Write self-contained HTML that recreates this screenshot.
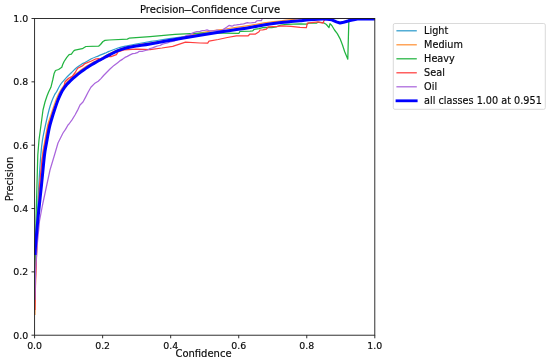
<!DOCTYPE html>
<html><head><meta charset="utf-8"><title>Precision–Confidence Curve</title>
<style>
html,body{margin:0;padding:0;background:#fff;}
svg{display:block;font-family:"DejaVu Sans","Liberation Sans",sans-serif;}
</style></head><body>
<svg width="550" height="362" viewBox="0 0 550 362">
<rect x="0" y="0" width="550" height="362" fill="#fff"/>
<defs><clipPath id="ax"><rect x="34.300000000000004" y="18.2" width="340.8" height="317.3"/></clipPath></defs>
<g clip-path="url(#ax)" fill="none" stroke-linejoin="round" stroke-linecap="butt">
<path d="M34.9,300.0 C34.98,295.00 35.18,278.33 35.4,270.0 C35.62,261.67 35.90,258.17 36.2,250.0 C36.50,241.83 36.82,230.83 37.2,221.0 C37.58,211.17 37.90,202.00 38.5,191.0 C39.10,180.00 40.13,163.50 40.8,155.0 C41.47,146.50 41.72,145.00 42.5,140.0 C43.28,135.00 44.42,130.00 45.5,125.0 C46.58,120.00 48.00,113.83 49.0,110.0 C50.00,106.17 50.58,104.50 51.5,102.0 C52.42,99.50 53.68,96.67 54.5,95.0 C55.32,93.33 55.40,93.75 56.4,92.0 C57.40,90.25 58.92,86.80 60.5,84.5 C62.08,82.20 64.08,80.17 65.9,78.2 C67.72,76.23 69.58,74.47 71.4,72.7 C73.22,70.93 74.98,69.08 76.8,67.6 C78.62,66.12 80.93,64.63 82.3,63.8 C83.67,62.97 83.48,63.45 85.0,62.6 C86.52,61.75 89.13,59.83 91.4,58.7 C93.67,57.57 96.33,56.72 98.6,55.8 C100.87,54.88 103.27,53.93 105.0,53.2 C106.73,52.47 106.83,52.27 109.0,51.4 C111.17,50.53 115.00,48.93 118.0,48.0 C121.00,47.07 124.00,46.47 127.0,45.8 C130.00,45.13 132.17,44.70 136.0,44.0 C139.83,43.30 146.00,42.27 150.0,41.6 C154.00,40.93 155.50,40.67 160.0,40.0 C164.50,39.33 172.00,38.27 177.0,37.6 C182.00,36.93 186.17,36.50 190.0,36.0 C193.83,35.50 194.17,35.47 200.0,34.6 C205.83,33.73 216.67,32.07 225.0,30.8 C233.33,29.53 241.33,28.40 250.0,27.0 C258.67,25.60 268.67,23.50 277.0,22.4 C285.33,21.30 292.83,20.93 300.0,20.4 C307.17,19.87 313.33,19.53 320.0,19.2 L340.0,18.4 L374.8,18.4" stroke="#2f9ccc" stroke-width="1.25"/>
<path d="M34.9,315.0 C34.97,310.83 35.15,297.50 35.3,290.0 C35.45,282.50 35.58,276.83 35.8,270.0 C36.02,263.17 36.30,255.67 36.6,249.0 C36.90,242.33 37.17,238.17 37.6,230.0 C38.03,221.83 38.80,206.50 39.2,200.0 C39.60,193.50 39.45,198.50 40.0,191.0 C40.55,183.50 41.75,163.00 42.5,155.0 C43.25,147.00 43.62,148.00 44.5,143.0 C45.38,138.00 46.78,129.50 47.8,125.0 C48.82,120.50 49.65,118.97 50.6,116.0 C51.55,113.03 52.52,110.07 53.5,107.2 C54.48,104.33 55.48,101.33 56.5,98.8 C57.52,96.27 58.55,93.97 59.6,92.0 C60.65,90.03 61.73,88.48 62.8,87.0 C63.87,85.52 64.97,84.27 66.0,83.1 C67.03,81.93 68.00,80.98 69.0,80.0 C70.00,79.02 71.00,78.10 72.0,77.2 C73.00,76.30 73.83,75.57 75.0,74.6 C76.17,73.63 77.67,72.42 79.0,71.4 C80.33,70.38 81.67,69.42 83.0,68.5 C84.33,67.58 85.67,66.73 87.0,65.9 C88.33,65.07 89.67,64.27 91.0,63.5 C92.33,62.73 93.50,62.07 95.0,61.3 C96.50,60.53 97.50,60.22 100.0,58.9 C102.50,57.58 106.67,55.02 110.0,53.4 C113.33,51.78 116.67,50.37 120.0,49.2 C123.33,48.03 126.67,47.17 130.0,46.4 C133.33,45.63 136.67,45.17 140.0,44.6 C143.33,44.03 144.17,43.97 150.0,43.0 C155.83,42.03 166.07,40.57 175.0,38.8 C183.93,37.03 195.27,34.03 203.6,32.4 C211.93,30.77 217.27,30.18 225.0,29.0 C232.73,27.82 242.83,26.42 250.0,25.3 C257.17,24.18 261.93,23.15 268.0,22.3 C274.07,21.45 281.82,20.73 286.4,20.2 C290.98,19.67 293.23,19.32 295.5,19.1 C297.77,18.88 298.42,19.02 300.0,18.9 C301.58,18.78 292.53,18.48 305.0,18.4 L374.8,18.4" stroke="#ff9238" stroke-width="1.25"/>
<path d="M34.9,290.0 L35.3,260.0 L36.0,221.0 L36.8,191.0 L37.8,155.0 L39.0,140.0 L41.0,125.0 L43.0,110.0 L45.0,102.0 L47.0,96.0 L48.6,92.0 L50.9,87.3 L52.7,80.0 L54.1,73.6 L55.5,70.5 L58.6,69.5 L61.8,67.3 L62.7,64.5 L64.1,61.5 L66.8,57.4 L69.1,54.6 L71.4,54.2 L73.6,51.0 L75.0,50.1 L82.3,48.7 L85.9,46.5 L98.6,46.2 L100.5,44.5 L103.0,41.5 L105.0,40.4 L109.1,40.0 L127.3,39.1 L129.0,38.2 L150.0,36.7 L175.0,34.4 L200.0,33.1 L222.7,33.1 L239.0,33.3 L240.0,31.3 L250.0,31.2 L252.7,30.9 L254.0,29.5 L259.0,28.6 L262.7,27.7 L268.0,27.3 L271.8,27.7 L276.4,26.8 L281.0,25.0 L286.4,24.4 L300.0,23.8 L307.3,24.1 L308.6,23.2 L316.4,23.2 L318.0,22.3 L323.6,22.7 L326.4,24.5 L329.0,27.7 L330.0,23.6 L331.8,25.5 L334.5,30.0 L337.3,33.6 L340.0,38.6 L342.4,44.8 L344.7,51.8 L347.0,57.2 L347.8,59.2 L348.9,18.4 L374.8,18.4" stroke="#22b440" stroke-width="1.25"/>
<path d="M34.9,310.0 L35.6,280.0 L36.8,249.0 L38.0,221.0 L39.5,185.0 L42.0,160.0 L45.0,143.0 L48.5,125.0 L54.0,110.0 L60.0,96.0 L64.1,86.4 L65.0,81.8 L68.6,78.2 L72.3,76.4 L75.0,72.7 L77.7,68.2 L82.3,65.9 L85.0,63.6 L91.4,61.0 L95.0,59.2 L98.6,58.7 L100.5,60.5 L104.0,58.0 L108.0,56.6 L111.0,56.6 L116.4,54.6 L118.0,52.0 L124.0,49.8 L128.2,49.6 L136.0,49.2 L143.6,49.4 L150.0,49.6 L162.0,48.0 L172.7,46.3 L185.5,42.2 L200.0,43.0 L207.7,43.1 L209.0,41.1 L218.2,39.5 L227.3,37.5 L236.4,35.8 L248.2,35.8 L250.0,34.0 L255.5,34.1 L259.0,31.8 L260.0,30.0 L262.7,29.8 L266.4,29.1 L268.2,26.8 L277.3,26.4 L281.8,25.9 L291.0,26.4 L300.0,27.4 L306.4,27.7 L307.3,23.2 L318.0,21.8 L323.2,23.2 L323.8,20.9 L326.0,18.4 L374.8,18.4" stroke="#ff3e3e" stroke-width="1.25"/>
<path d="M34.9,300.0 L35.6,270.0 L37.2,245.0 L39.5,221.0 L42.5,205.0 L45.5,191.0 L50.0,170.0 L54.5,155.0 L58.0,143.0 L63.0,133.0 L65.5,129.4 L68.0,125.0 L69.0,124.0 L72.0,119.8 L75.0,115.0 L77.5,110.4 L80.0,105.0 L83.0,102.0 L85.6,97.1 L88.2,92.0 L90.9,87.3 L94.5,83.6 L98.2,81.2 L100.9,78.6 L103.6,75.5 L107.3,71.8 L110.0,69.0 L114.0,65.4 L118.0,62.4 L120.3,60.6 L122.7,59.1 L125.0,57.4 L127.3,56.4 L130.0,54.9 L132.7,53.6 L135.0,53.4 L137.3,52.7 L139.0,51.4 L142.2,51.3 L145.5,50.5 L147.8,50.0 L150.0,48.5 L152.5,47.9 L155.0,46.9 L157.5,46.0 L160.0,45.5 L162.5,44.1 L165.0,43.5 L167.5,42.9 L170.0,42.0 L172.5,41.4 L175.0,40.8 L177.5,39.7 L180.0,38.6 L182.5,37.7 L185.0,36.4 L187.5,35.1 L190.0,34.6 L193.6,32.6 L196.8,31.7 L200.0,31.3 L202.3,30.7 L204.7,30.5 L207.0,29.9 L209.5,30.9 L212.0,30.8 L214.5,30.8 L217.0,30.1 L219.5,30.5 L222.0,30.5 L224.7,28.5 L227.3,26.7 L229.0,25.4 L232.0,26.2 L234.2,25.1 L236.4,24.9 L240.0,24.4 L243.6,23.8 L247.3,22.6 L250.0,23.0 L253.0,22.6 L255.5,22.3 L256.8,20.9 L259.1,20.5 L261.4,20.7 L262.3,18.4 L374.8,18.4" stroke="#aa66dc" stroke-width="1.25"/>
<path d="M35.0,255.0 C35.10,253.33 35.05,251.67 35.6,245.0 C36.15,238.33 37.32,225.00 38.3,215.0 C39.28,205.00 40.47,195.00 41.5,185.0 C42.53,175.00 43.67,162.00 44.5,155.0 C45.33,148.00 45.70,147.50 46.5,143.0 C47.30,138.50 48.38,132.17 49.3,128.0 C50.22,123.83 51.05,121.25 52.0,118.0 C52.95,114.75 54.00,111.50 55.0,108.5 C56.00,105.50 57.00,102.55 58.0,100.0 C59.00,97.45 60.00,95.17 61.0,93.2 C62.00,91.23 63.00,89.68 64.0,88.2 C65.00,86.72 66.00,85.47 67.0,84.3 C68.00,83.13 69.00,82.18 70.0,81.2 C71.00,80.22 72.00,79.30 73.0,78.4 C74.00,77.50 74.83,76.77 76.0,75.8 C77.17,74.83 78.67,73.62 80.0,72.6 C81.33,71.58 82.67,70.63 84.0,69.7 C85.33,68.77 86.67,67.87 88.0,67.0 C89.33,66.13 90.67,65.30 92.0,64.5 C93.33,63.70 94.67,62.95 96.0,62.2 C97.33,61.45 98.50,60.82 100.0,60.0 C101.50,59.18 103.33,58.20 105.0,57.3 C106.67,56.40 107.83,55.70 110.0,54.6 C112.17,53.50 115.17,51.83 118.0,50.7 C120.83,49.57 124.00,48.58 127.0,47.8 C130.00,47.02 132.17,46.65 136.0,46.0 C139.83,45.35 143.50,44.98 150.0,43.9 C156.50,42.82 166.67,40.95 175.0,39.5 C183.33,38.05 191.67,36.57 200.0,35.2 C208.33,33.83 216.67,32.58 225.0,31.3 C233.33,30.02 243.57,28.57 250.0,27.5 C256.43,26.43 259.05,25.65 263.6,24.9 C268.15,24.15 272.73,23.55 277.3,23.0 C281.87,22.45 287.22,21.98 291.0,21.6 C294.78,21.22 297.00,21.00 300.0,20.7 C303.00,20.40 306.00,20.05 309.0,19.8 C312.00,19.55 314.95,19.30 318.0,19.2 C321.05,19.10 325.00,19.10 327.3,19.2 L331.8,19.8 L336.4,21.8 L340.0,23.0 L343.6,22.2 L350.0,20.5 L357.5,19.1 L374.8,19.1" stroke="#0000ff" stroke-width="3.0"/>
</g>
<rect x="34.6" y="18.5" width="340.2" height="316.7" fill="none" stroke="#1a1a1a" stroke-width="0.9"/>
<g stroke="#1a1a1a" stroke-width="0.9">
<line x1="34.60" y1="335.2" x2="34.60" y2="338.3"/><line x1="31.5" y1="335.20" x2="34.6" y2="335.20"/>
<line x1="102.64" y1="335.2" x2="102.64" y2="338.3"/><line x1="31.5" y1="271.86" x2="34.6" y2="271.86"/>
<line x1="170.68" y1="335.2" x2="170.68" y2="338.3"/><line x1="31.5" y1="208.52" x2="34.6" y2="208.52"/>
<line x1="238.72" y1="335.2" x2="238.72" y2="338.3"/><line x1="31.5" y1="145.18" x2="34.6" y2="145.18"/>
<line x1="306.76" y1="335.2" x2="306.76" y2="338.3"/><line x1="31.5" y1="81.84" x2="34.6" y2="81.84"/>
<line x1="374.80" y1="335.2" x2="374.80" y2="338.3"/><line x1="31.5" y1="18.50" x2="34.6" y2="18.50"/>
</g>
<g font-size="9.4" fill="#0a0a0a" stroke="#0a0a0a" stroke-width="0.16">
<text x="34.60" y="349" text-anchor="middle">0.0</text><text x="28.2" y="339" text-anchor="end">0.0</text>
<text x="102.64" y="349" text-anchor="middle">0.2</text><text x="28.2" y="275" text-anchor="end">0.2</text>
<text x="170.68" y="349" text-anchor="middle">0.4</text><text x="28.2" y="212" text-anchor="end">0.4</text>
<text x="238.72" y="349" text-anchor="middle">0.6</text><text x="28.2" y="149" text-anchor="end">0.6</text>
<text x="306.76" y="349" text-anchor="middle">0.8</text><text x="28.2" y="85" text-anchor="end">0.8</text>
<text x="374.80" y="349" text-anchor="middle">1.0</text><text x="28.2" y="22" text-anchor="end">1.0</text>
</g>
<text x="203.5" y="357" font-size="11.1" font-family="DejaVu Sans Condensed,DejaVu Sans,sans-serif" text-anchor="middle" fill="#0a0a0a" stroke="#0a0a0a" stroke-width="0.16">Confidence</text>
<text transform="translate(12.5,179) rotate(-90)" font-size="10" text-anchor="middle" fill="#0a0a0a" stroke="#0a0a0a" stroke-width="0.16">Precision</text>
<g font-size="10" fill="#0a0a0a" stroke="#0a0a0a" stroke-width="0.16"><text x="140.0" y="13">Precision</text><text transform="translate(183.7,13) scale(1.58,1)">–</text><text x="191.2" y="13">Confidence Curve</text></g>
<rect x="393.3" y="23.5" width="152" height="85.8" rx="1.6" fill="#fff" fill-opacity="0.8" stroke="#d0d0d0" stroke-width="0.8"/>
<line x1="396.4" y1="30.8" x2="416.8" y2="30.8" stroke="#2f9ccc" stroke-width="1.25"/><text x="424.1" y="34" font-size="9.7" fill="#0a0a0a" stroke="#0a0a0a" stroke-width="0.16">Light</text>
<line x1="396.4" y1="44.8" x2="416.8" y2="44.8" stroke="#ff9238" stroke-width="1.25"/><text x="424.1" y="48" font-size="9.7" fill="#0a0a0a" stroke="#0a0a0a" stroke-width="0.16">Medium</text>
<line x1="396.4" y1="58.8" x2="416.8" y2="58.8" stroke="#22b440" stroke-width="1.25"/><text x="424.1" y="62" font-size="9.7" fill="#0a0a0a" stroke="#0a0a0a" stroke-width="0.16">Heavy</text>
<line x1="396.4" y1="72.8" x2="416.8" y2="72.8" stroke="#ff3e3e" stroke-width="1.25"/><text x="424.1" y="76" font-size="9.7" fill="#0a0a0a" stroke="#0a0a0a" stroke-width="0.16">Seal</text>
<line x1="396.4" y1="86.8" x2="416.8" y2="86.8" stroke="#aa66dc" stroke-width="1.25"/><text x="424.1" y="90" font-size="9.7" fill="#0a0a0a" stroke="#0a0a0a" stroke-width="0.16">Oil</text>
<line x1="395.6" y1="100.8" x2="417.6" y2="100.8" stroke="#0000ff" stroke-width="2.8"/><text x="424.1" y="104" font-size="9.7" fill="#0a0a0a" stroke="#0a0a0a" stroke-width="0.16">all classes 1.00 at 0.951</text>
</svg>
</body></html>
